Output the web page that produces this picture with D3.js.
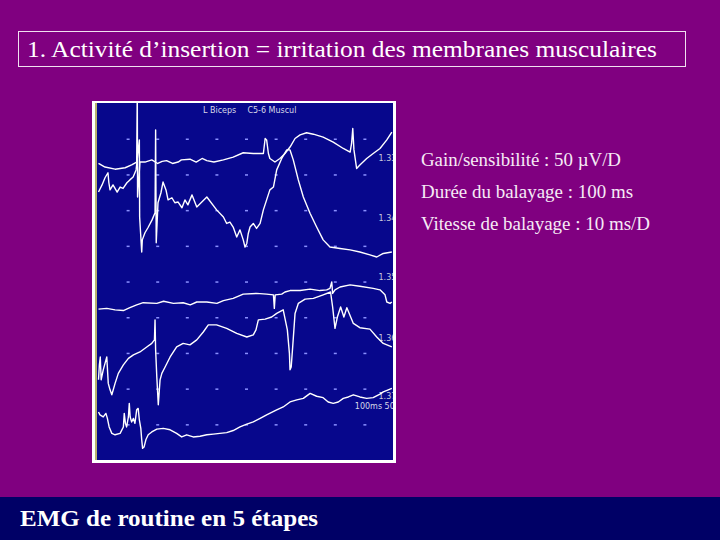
<!DOCTYPE html>
<html><head><meta charset="utf-8">
<script src="https://cdn.jsdelivr.net/npm/d3@7"></script>
<style>html,body{margin:0;padding:0;background:#800080;overflow:hidden}</style>
</head><body>
<svg id="c" width="720" height="540"></svg>
<script>
// ---- data (time in ms, amplitude in µV on the 10-division screen) ----
const title = "1. Activité d’insertion = irritation des membranes musculaires";
const footer = "EMG de routine en 5 étapes";
const settings = ["Gain/sensibilité : 50 µV/D", "Durée du balayage : 100 ms", "Vitesse de balayage : 10 ms/D"];
const header = ["L Biceps", "C5-6 Muscul"];
const traceLabels = ["1.33", "1.34", "1.35", "1.36", "1.37"];
const traceLabelLevels = [423, 340, 257, 172, 90];
const scaleLabel = "100ms 50µV";
const gridTimes = [10, 20, 30, 40, 50, 60, 70, 80, 90];
const gridLevels = [50, 100, 150, 200, 250, 300, 350, 400, 450];

const trace1T = [0,2.2,5.6,9.0,11.2,12.9,13.1,13.2,14.0,15.7,18,20,21.5,23,25,26.9,28,30.9,33,35,36.6,39,42.2,45.5,48.9,52.3,55.7,56.3,56.8,57.4,57.9,59.6,61.3,63.0,64.7,66.4,68.1,70.3,72.6,75.9,79.3,82.7,85.0,85.5,85.9,86.3,87.2,88.3,90.6,92.8,95.1,97.4,99.1];
const trace1V = [416,411,408,410,414,418,520,369,418,418,421,416,419,420,416,418,421,422,418,423,420,418,421,425,431,430,430,451,449,430,423,418,423,430,439,451,456,459,457,453,446,437,432,444,465,435,409,414,423,430,437,449,460];

const trace2T = [0,1.2,2.2,3.2,3.5,3.9,4.9,6.3,7.3,8.3,9.6,10.6,11.7,12.7,13.8,13.9,14.6,14.8,15.7,16.7,18.1,19.1,19.3,19.5,20.1,21.1,21.8,22.8,23.5,24.8,25.8,26.9,28.2,29.2,30.2,31.6,33.2,36.6,39.9,42.2,43.3,44.4,45.5,46.7,47.8,48.9,49.5,50.1,50.6,51.2,52.3,53.4,54.6,55.7,56.8,57.9,59.1,60.2,61.9,63.6,64.7,65.8,67.5,69.2,71.5,73.7,75.9,78.2,81.6,85.0,88.3,91.7,94.0,96.2,99.1];
const trace2V = [376,386,396,403,389,379,386,376,383,381,389,393,397,407,449,341,292,309,319,326,337,347,463,305,361,375,390,379,365,368,361,362,354,365,358,372,355,369,351,341,332,334,327,313,323,309,299,304,318,327,332,325,332,351,365,379,383,407,423,435,435,421,393,369,346,327,309,299,297,295,292,288,285,290,292];

const trace3T = [0,2.8,5.6,8.4,10.6,12.9,15.1,19.7,22,25.3,28.6,31,33.2,36.6,40,42.2,45.5,48.9,53.4,56.8,59.1,59.4,59.7,61.9,63.0,64.7,68.1,71.5,74.8,77.1,78.2,78.8,79.1,79.9,81.6,85.0,88.3,92.8,95.1,96.8,97.4,98.5,99.1];
const trace3V = [212,213,211,210,214,218,221,220,223,220,221,218,222,222,220,224,227,233,234,233,232,213,232,233,236,238,238,240,238,239,241,250,234,239,243,246,244,241,239,232,222,220,222];

const trace4T = [0,0.3,0.6,0.9,1.6,2.2,2.8,3.3,3.9,4.5,5.6,6.7,8.4,10.1,11.8,14.0,16.3,18.0,18.9,19.1,19.3,19.7,20.2,20.8,21.4,22.5,24.2,26.4,28.6,30.9,33.2,35.4,37.1,39.9,43.3,46.7,50.1,52.3,53.2,54.0,56.3,58.5,60.2,62.4,63.8,64.5,64.7,65.1,65.6,66.4,67.5,69.8,72.6,75.9,78.4,79.1,79.9,80.7,81.8,82.9,83.9,86.1,88.3,91.7,94.0,96.2,99.1];
const trace4V = [113,134,145,113,127,136,145,108,99,92,108,122,134,143,148,152,159,164,169,197,155,117,78,113,122,131,145,159,164,162,169,180,190,190,185,178,173,176,183,197,198,201,206,211,183,150,127,131,159,206,220,226,227,232,236,215,185,201,215,201,214,192,186,184,173,164,159];

const trace5T = [0,0.5,1.6,2.5,3.0,3.6,4.5,5.6,7.3,8.4,8.7,9.1,9.5,10.1,10.4,10.7,11.2,11.8,12.3,12.9,13.4,13.8,14.3,14.6,14.9,15.4,16.0,16.8,18.0,19.7,21.9,24.2,26.4,28.1,29.8,32.0,34.3,36.6,38.8,41.0,43.3,45.5,47.8,50.1,52.3,54.6,56.8,60.2,62.4,64.7,67.0,69.2,71.5,73.7,75.9,77.6,79.3,81.0,82.7,84.4,86.1,88.3,90.6,92.8,95.1,96.2,97.9,99.1];
const trace5V = [68,64,61,66,59,47,38,36,38,47,66,52,47,61,80,61,54,59,52,71,73,57,45,29,17,19,29,36,40,44,45,43,38,33,36,33,34,36,37,38,39,42,47,51,54,59,64,71,75,82,85,87,94,90,88,82,80,82,87,89,92,89,87,88,93,96,99,101];

const traces = [[trace1T,trace1V],[trace2T,trace2V],[trace3T,trace3V],[trace4T,trace4V],[trace5T,trace5V]];

// ---- drawing ----
const svg = d3.select("#c");
svg.append("rect").attr("width",720).attr("height",540).attr("fill","#800080");

// title box
svg.append("rect").attr("x",18.5).attr("y",31.5).attr("width",667).attr("height",35)
  .attr("fill","none").attr("stroke","#f0e0f0").attr("stroke-width",1);
svg.append("text").attr("x",27).attr("y",57).text(title)
  .attr("font-family","Liberation Serif, serif").attr("font-size",24).attr("fill","#ffffff")
  .attr("textLength",630).attr("lengthAdjust","spacingAndGlyphs");

// settings text
const setW = [200, 212, 229];
settings.forEach((s,i)=>{
  svg.append("text").attr("x",421).attr("y",166+i*32).text(s)
    .attr("font-family","Liberation Serif, serif").attr("font-size",18).attr("fill","#f6eaf6")
    .attr("textLength",setW[i]).attr("lengthAdjust","spacingAndGlyphs");
});

// footer bar
svg.append("rect").attr("x",0).attr("y",497).attr("width",720).attr("height",43).attr("fill","#000066");
svg.append("text").attr("x",20).attr("y",526).text(footer)
  .attr("font-family","Liberation Serif, serif").attr("font-weight","bold").attr("font-size",24).attr("fill","#ffffff")
  .attr("textLength",298).attr("lengthAdjust","spacingAndGlyphs");

// EMG panel
svg.append("rect").attr("x",92).attr("y",101).attr("width",304).attr("height",362).attr("fill","#ffffff");
svg.append("rect").attr("x",95).attr("y",103).attr("width",2).attr("height",357).attr("fill","#b8b070");
svg.append("rect").attr("x",97).attr("y",103).attr("width",296).attr("height",357).attr("fill","#07078c");

svg.append("clipPath").attr("id","scr").append("rect").attr("x",97).attr("y",103).attr("width",296).attr("height",357);

const x = d3.scaleLinear().domain([0,100]).range([98.5,394.5]);
const y = d3.scaleLinear().domain([0,500]).range([460.5,103.5]);

const g = svg.append("g").attr("clip-path","url(#scr)");

// grid dots
gridLevels.forEach(l=>{
  g.selectAll(null).data(gridTimes).enter().append("rect")
    .attr("x",d=>x(d)-1.5).attr("y",y(l)-0.7).attr("width",3).attr("height",1.5)
    .attr("fill","#8a90ff");
});

// header
g.append("text").attr("x",x(35.3)).attr("y",113).text(header[0])
  .attr("font-family","DejaVu Sans, sans-serif").attr("font-size",8).attr("fill","#d8d8e8");
g.append("text").attr("x",x(50.3)).attr("y",113).text(header[1])
  .attr("font-family","DejaVu Sans, sans-serif").attr("font-size",8).attr("fill","#d8d8e8");

// trace labels
traceLabels.forEach((t,i)=>{
  g.append("text").attr("x",x(94.6)).attr("y",y(traceLabelLevels[i])+3).text(t)
    .attr("font-family","DejaVu Sans, sans-serif").attr("font-size",8).attr("fill","#c8c8dc");
});
g.append("text").attr("x",x(86.6)).attr("y",y(76)+3).text(scaleLabel)
  .attr("font-family","DejaVu Sans, sans-serif").attr("font-size",8).attr("fill","#d8d8e8");

// traces
const line = d3.line().x(d=>x(d[0])).y(d=>y(d[1])).curve(d3.curveLinear);
traces.forEach(([T,V])=>{
  const pts = T.map((t,i)=>[t,V[i]]);
  g.append("path").datum(pts).attr("d",line)
    .attr("fill","none").attr("stroke","#ffffff").attr("stroke-width",1.4)
    .attr("stroke-linejoin","round");
});
</script>
</body></html>
